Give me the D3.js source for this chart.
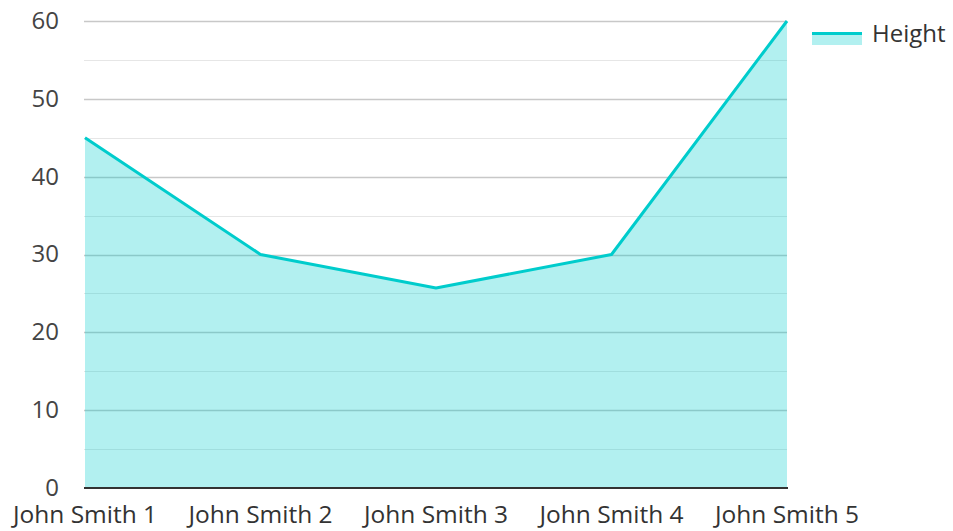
<!DOCTYPE html>
<html><head><meta charset="utf-8">
<script src="https://cdn.jsdelivr.net/npm/d3@7"></script>
<style>body{margin:0;background:#fff}svg{display:block}</style>
</head><body><svg id="c" width="953" height="531"></svg>
<script>
const categories = ["John Smith 1","John Smith 2","John Smith 3","John Smith 4","John Smith 5"];
const heightValues = [45, 30, 25.7, 30, 60];
const seriesName = "Height";
const yTicks = [0,10,20,30,40,50,60];
const yMinorTicks = [5,15,25,35,45,55];

const svg = d3.select("#c");
const font = "'Open Sans', 'Noto Sans', sans-serif";
const fs = 24;
const x = d3.scalePoint().domain(categories).range([85, 787]);
const y = d3.scaleLinear().domain([0, 60]).range([488, 21]);

// minor grid
svg.append("g").selectAll("line").data(yMinorTicks).join("line")
  .attr("x1", 84).attr("x2", 787)
  .attr("y1", d => Math.round(y(d)) + 0.5).attr("y2", d => Math.round(y(d)) + 0.5)
  .attr("stroke", "#e6e6e6").attr("stroke-width", 1);
// major grid
svg.append("g").selectAll("line").data(yTicks.filter(d => d > 0)).join("line")
  .attr("x1", 84).attr("x2", 787)
  .attr("y1", d => Math.round(y(d)) + 0.5).attr("y2", d => Math.round(y(d)) + 0.5)
  .attr("stroke", "#c8c8c8").attr("stroke-width", 1.5);

const data = categories.map((c, i) => ({c, v: heightValues[i]}));
svg.append("path").datum(data)
  .attr("d", d3.area().x(d => x(d.c)).y0(y(0)).y1(d => y(d.v)))
  .attr("fill", "rgba(0,204,204,0.3)");
svg.append("path").datum(data)
  .attr("d", d3.line().x(d => x(d.c)).y(d => y(d.v)))
  .attr("fill", "none").attr("stroke", "#00cccc").attr("stroke-width", 3)
  .attr("stroke-linejoin", "round");

// baseline
svg.append("line").attr("x1", 84).attr("x2", 788).attr("y1", 488).attr("y2", 488)
  .attr("stroke", "#333").attr("stroke-width", 2);

// y labels
svg.append("g").selectAll("text").data(yTicks).join("text")
  .attr("x", 59).attr("y", d => y(d)).attr("dy", "0.33em")
  .attr("text-anchor", "end").attr("font-family", font).attr("font-size", fs)
  .attr("fill", "#444").text(d => d);
// x labels
svg.append("g").selectAll("text").data(categories).join("text")
  .attr("x", d => x(d)).attr("y", 523)
  .attr("text-anchor", "middle").attr("font-family", font).attr("font-size", 24.5)
  .attr("fill", "#333").text(d => d);

// legend
const lg = svg.append("g");
lg.append("rect").attr("x", 812).attr("y", 33).attr("width", 50).attr("height", 12)
  .attr("fill", "rgba(0,204,204,0.3)");
lg.append("line").attr("x1", 812).attr("x2", 862).attr("y1", 33.5).attr("y2", 33.5)
  .attr("stroke", "#00cccc").attr("stroke-width", 3);
lg.append("text").attr("x", 872).attr("y", 42).attr("font-family", font).attr("font-size", fs)
  .attr("fill", "#333").text(seriesName);
</script></body></html>
